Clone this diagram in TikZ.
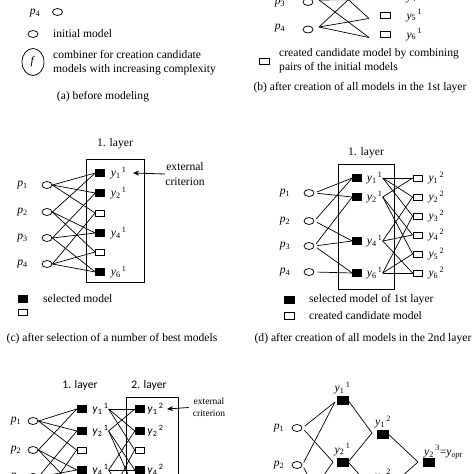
\documentclass[tikz,border=0pt]{standalone}
\usepackage{fontspec}
\setmainfont{Liberation Serif}
\newfontfamily\calfont{Carlito}
\usetikzlibrary{shapes.geometric,positioning,arrows.meta}

\newcommand{\pl}[1]{\textit{p}\textsubscript{#1}}
\newcommand{\yl}[2]{\textit{y}\textsubscript{#1}\textsuperscript{\,#2}}

\begin{document}
\begin{tikzpicture}[x=1pt,y=-1pt,inner sep=0pt,font=\fontsize{11.6}{14.5}\selectfont,
  inmod/.style={draw,ellipse,minimum width=10pt,minimum height=7pt,line width=0.75pt},
  selbox/.style={draw,fill=black,minimum width=9pt,minimum height=7pt},
  candbox/.style={draw,minimum width=9pt,minimum height=6pt,line width=0.75pt},
  fbox/.style={selbox,minimum width=11pt,minimum height=8pt},
  layfr/.style={draw,line width=0.85pt},
  con/.style={line width=0.7pt},
  crit/.style={-{Stealth[length=6pt,width=5pt]},line width=0.8pt},
  sans/.style={font=\calfont\fontsize{11.6}{14}\selectfont}]

  \useasboundingbox (0,0) rectangle (474,474);
  \clip (0,0) rectangle (474,474);

  \node (a_pl4) at (35,13) {\pl{4}};
  \node[inmod] (a_p4) at (57.5,12) {};
  \node[inmod] (a_leg) at (33,34) {};
  \node[anchor=west] (a_legt) at (53,34) {initial model};
  \node[draw,ellipse,minimum width=22pt,minimum height=27pt,line width=0.75pt] (a_f) at (33,62) {\textit{f}};
  \node[anchor=west,align=left] (a_ft) at (53,62.5) {combiner for creation candidate\\models with increasing complexity};
  \node (a_cap) at (103,97) {(a) before modeling};

  \node (b_pl3) at (280,3) {\pl{3}};
  \node (b_pl4) at (280,28) {\pl{4}};
  \node[inmod] (b_p3) at (308,2) {};
  \node[inmod] (b_p4) at (308,29.5) {};
  \coordinate (b_o1) at (319,-54);
  \coordinate (b_o2) at (319,-27);
  \coordinate (b_o3) at (319,0);
  \coordinate (b_o4) at (319,27);
  \coordinate (b_i1) at (369,-57.5);
  \coordinate (b_i2) at (369,-38.5);
  \coordinate (b_i3) at (369,-19.5);
  \coordinate (b_i4) at (369,-0.5);
  \coordinate (b_i5) at (369,18.5);
  \coordinate (b_i6) at (369,37.5);
  \node[candbox,minimum width=10pt] (b_y4) at (385,-3.5) {};
  \node[candbox,minimum width=10pt] (b_y5) at (385,15.5) {};
  \node[candbox,minimum width=10pt] (b_y6) at (385,34.5) {};
  \node (b_yl4) [right=16pt of b_y4] {\yl{4}{1}};
  \node (b_yl5) [right=16pt of b_y5] {\yl{5}{1}};
  \node (b_yl6) [right=16pt of b_y6] {\yl{6}{1}};
  \node[candbox,minimum width=10pt] (b_leg) at (264,61) {};
  \node[anchor=west,align=left] (b_legt) at (279,60.5) {created candidate model by combining\\pairs of the initial models};
  \node (b_cap) at (360,88) {(b) after creation of all models in the 1st layer};

  \path[con]
    (b_o1) edge (b_i1) edge (b_i2) edge (b_i3)
    (b_o2) edge (b_i1) edge (b_i4) edge (b_i5)
    (b_o3) edge (b_i2) edge (b_i4) edge (b_i6)
    (b_o4) edge (b_i3) edge (b_i5) edge (b_i6);

  \node (c_lay) at (115,144) {1. layer};
  \draw[layfr] (86,159) rectangle (144,282);
  \node (c_pl1) at (22.5,185) {\pl{1}};
  \node (c_pl2) at (22.5,212) {\pl{2}};
  \node (c_pl3) at (22.5,238) {\pl{3}};
  \node (c_pl4) at (22.5,264) {\pl{4}};
  \node[inmod] (c_p1) at (47,185) {};
  \node[inmod] (c_p2) at (47,212) {};
  \node[inmod] (c_p3) at (47,238) {};
  \node[inmod] (c_p4) at (47,264) {};
  \node[selbox] (c_y1) at (100,173) {};
  \node[selbox] (c_y2) at (100,193) {};
  \node[candbox] (c_y3) at (100,213) {};
  \node[selbox] (c_y4) at (100,233) {};
  \node[candbox] (c_y5) at (100,252) {};
  \node[selbox] (c_y6) at (100,272) {};
  \node (c_yl1) [right=6pt of c_y1] {\yl{1}{1}};
  \node (c_yl2) [right=6pt of c_y2] {\yl{2}{1}};
  \node (c_yl4) [right=6pt of c_y4] {\yl{4}{1}};
  \node (c_yl6) [right=6pt of c_y6] {\yl{6}{1}};
  \node[align=center] (c_ext) at (185,174) {external\\criterion};
  \coordinate (c_tip) at (133,173);
  \draw[crit] (c_ext.west) -- (c_tip);
  \node[selbox] (c_leg1) at (23,299) {};
  \node[candbox] (c_leg2) at (23,312) {};
  \node[anchor=west] (c_legt) at (43,299) {selected model};
  \node (c_cap) at (112,339) {(c) after selection of a number of best models};

  \path[con]
    (c_p1.east) edge (c_y1.west) edge (c_y2.west) edge (c_y3.west)
    (c_p2.east) edge (c_y1.west) edge (c_y4.west) edge (c_y5.west)
    (c_p3.east) edge (c_y2.west) edge (c_y4.west) edge (c_y6.west)
    (c_p4.east) edge (c_y3.west) edge (c_y5.west) edge (c_y6.west);

  \node (d_lay) at (366,153) {1. layer};
  \draw[layfr] (338,164) rectangle (394,289);
  \node (d_pl1) at (285,193) {\pl{1}};
  \node (d_pl2) at (285,221) {\pl{2}};
  \node (d_pl3) at (285,246) {\pl{3}};
  \node (d_pl4) at (285,272) {\pl{4}};
  \node[inmod] (d_p1) at (309,193) {};
  \node[inmod] (d_p2) at (309,221) {};
  \node[inmod] (d_p3) at (309,246) {};
  \node[inmod] (d_p4) at (309,272) {};
  \node[selbox] (d_y1) at (357,178) {};
  \node[selbox] (d_y2) at (357,197) {};
  \node[selbox] (d_y4) at (357,241) {};
  \node[selbox] (d_y6) at (357,273) {};
  \node (d_yl1) [right=5pt of d_y1] {\yl{1}{1}};
  \node (d_yl2) [right=5pt of d_y2] {\yl{2}{1}};
  \node (d_yl4) [right=5pt of d_y4] {\yl{4}{1}};
  \node (d_yl6) [right=5pt of d_y6] {\yl{6}{1}};
  \node[candbox] (d_z1) at (417.5,178) {};
  \node[candbox] (d_z2) at (417.5,197) {};
  \node[candbox] (d_z3) at (417.5,216) {};
  \node[candbox] (d_z4) at (417.5,235) {};
  \node[candbox] (d_z5) at (417.5,254) {};
  \node[candbox] (d_z6) at (417.5,273) {};
  \node (d_zl1) [right=6pt of d_z1] {\yl{1}{2}};
  \node (d_zl2) [right=6pt of d_z2] {\yl{2}{2}};
  \node (d_zl3) [right=6pt of d_z3] {\yl{3}{2}};
  \node (d_zl4) [right=6pt of d_z4] {\yl{4}{2}};
  \node (d_zl5) [right=6pt of d_z5] {\yl{5}{2}};
  \node (d_zl6) [right=6pt of d_z6] {\yl{6}{2}};
  \node[selbox,minimum width=10pt] (d_leg1) at (289,300) {};
  \node[candbox,minimum width=10pt,minimum height=7pt] (d_leg2) at (289,316) {};
  \node[anchor=west] (d_legt1) at (309,300) {selected model of 1st layer};
  \node[anchor=west] (d_legt2) at (309,316) {created candidate model};
  \node (d_cap) at (363,339) {(d) after creation of all models in the 2nd layer};

  \path[con,shorten <=3pt]
    (d_p1.east) edge (d_y1.west) edge (d_y2.west)
    (d_p2.east) edge (d_y1.west) edge (d_y4.west)
    (d_p3.east) edge (d_y2.west) edge (d_y4.west) edge (d_y6.west)
    (d_p4.east) edge (d_y6.west);
  \path[con]
    (d_yl1.east) edge (d_z1.west) edge (d_z2.west) edge (d_z3.west)
    (d_yl2.east) edge (d_z1.west) edge (d_z4.west) edge (d_z5.west)
    (d_yl4.east) edge (d_z2.west) edge (d_z4.west) edge (d_z6.west)
    (d_yl6.east) edge (d_z3.west) edge (d_z5.west) edge (d_z6.west);

  \node[sans] (e_lay1) at (80,385) {1. layer};
  \node[sans] (e_lay2) at (149,385) {2. layer};
  \draw[layfr] (126,397) rectangle (178,500);
  \node (e_pl1) at (16,421) {\pl{1}};
  \node (e_pl2) at (16,450) {\pl{2}};
  \node (e_pl3) at (16,477) {\pl{3}};
  \node[inmod] (e_p1) at (33,421) {};
  \node[inmod] (e_p2) at (33,450) {};
  \node[inmod] (e_p3) at (33,477) {};
  \coordinate (e_p4) at (38,505);
  \node[selbox] (e_y1) at (81.5,409) {};
  \node[selbox] (e_y2) at (81.5,431) {};
  \node[candbox] (e_y3) at (81.5,450) {};
  \node[selbox] (e_y4) at (81.5,470) {};
  \coordinate (e_y5) at (77,490);
  \coordinate (e_y6) at (77,510);
  \node[sans] (e_yl1) [right=6pt of e_y1] {\yl{1}{1}};
  \node[sans] (e_yl2) [right=6pt of e_y2] {\yl{2}{1}};
  \node[sans] (e_yl4) [right=6pt of e_y4] {\yl{4}{1}};
  \coordinate (e_yl6) at (102,510);
  \node[selbox] (e_z1) at (139.5,409) {};
  \node[selbox] (e_z2) at (139.5,431) {};
  \node[candbox] (e_z3) at (139.5,450) {};
  \node[selbox] (e_z4) at (139.5,470) {};
  \coordinate (e_z5) at (135,490);
  \coordinate (e_z6) at (135,510);
  \node[sans] (e_zl1) [right=3pt of e_z1] {\yl{1}{2}};
  \node[sans] (e_zl2) [right=3pt of e_z2] {\yl{2}{2}};
  \node[sans] (e_zl4) [right=3pt of e_z4] {\yl{4}{2}};
  \node[align=center,font=\fontsize{9.5}{11.6}\selectfont] (e_ext) at (209,407.5) {external\\criterion};
  \coordinate (e_tip) at (167,409);
  \draw[crit] ([xshift=-4pt]e_ext.west) -- (e_tip);

  \path[con]
    (e_p1.east) edge (e_y1.west) edge (e_y2.west) edge (e_y3.west)
    (e_p2.east) edge (e_y1.west) edge (e_y4.west) edge (e_y5)
    (e_p3.east) edge (e_y2.west) edge (e_y4.west) edge (e_y6)
    (e_p4) edge (e_y3.west) edge (e_y5) edge (e_y6)
    (e_yl1.east) edge (e_z1.west) edge (e_z2.west) edge (e_z3.west)
    (e_yl2.east) edge (e_z1.west) edge (e_z4.west) edge (e_z5)
    (e_yl4.east) edge (e_z2.west) edge (e_z4.west) edge (e_z6)
    (e_yl6) edge (e_z3.west) edge (e_z5) edge (e_z6);

  \node (f_pl1) at (279,428) {\pl{1}};
  \node (f_pl2) at (279,465) {\pl{2}};
  \node[inmod] (f_p1) at (297,428) {};
  \node[inmod] (f_p2) at (297,465) {};
  \coordinate (f_p3) at (305,502);
  \node[fbox] (f_y11) at (342.5,400.5) {};
  \node[fbox] (f_y21) at (342.5,462) {};
  \node[fbox] (f_y12) at (383,434.5) {};
  \node[fbox] (f_y22) at (383,488) {};
  \node[fbox] (f_y23) at (429,462.5) {};
  \node (f_yl11) [above=2pt of f_y11] {\yl{1}{1}};
  \node (f_yl21) [above=2pt of f_y21] {\yl{2}{1}};
  \node (f_yl12) [above=2pt of f_y12] {\yl{1}{2}};
  \node (f_yl22) [above=2pt of f_y22] {\yl{2}{2}};
  \node[anchor=south west] (f_yl23) at (424,459) {\yl{2}{3}=\textit{y}\textsubscript{\textit{opt}}};
  \coordinate (f_i11) at (335,402);
  \coordinate (f_i21) at (333,462);
  \coordinate (f_i31) at (333,524);
  \coordinate (f_i12) at (372,433);
  \coordinate (f_i22) at (372,489);
  \coordinate (f_i23) at (418,462);

  \path[con]
    (f_p1.east) edge[shorten <=3pt] (f_i11) edge[shorten <=3pt] (f_i21)
    (f_p2.east) edge[shorten <=3pt] (f_i11) edge[shorten <=3pt] (f_i31)
    (f_p3) edge (f_i21)
    (f_y11.east) edge (f_i12)
    (f_y21.east) edge (f_i12) edge (f_i22)
    (f_y12.east) edge (f_i23)
    (f_y22.east) edge (f_i23);

\end{tikzpicture}
\end{document}
